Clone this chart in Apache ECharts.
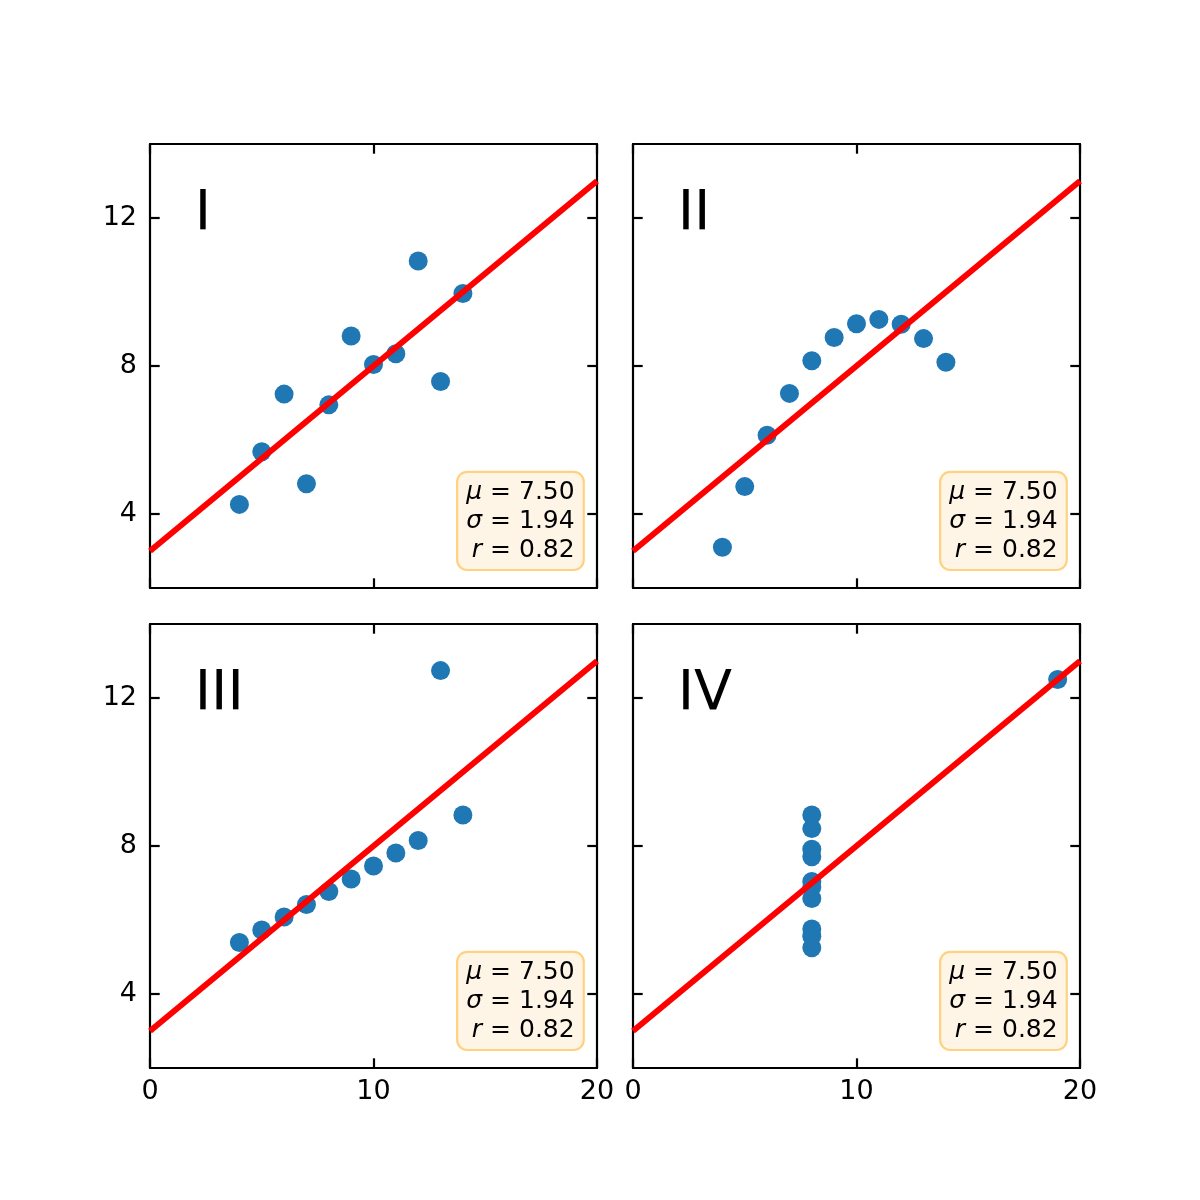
<!DOCTYPE html>
<html>
<head>
<meta charset="utf-8">
<script src="https://cdn.jsdelivr.net/npm/echarts@6/dist/echarts.min.js"></script>
<style>html,body{margin:0;padding:0;background:#fff}#c{width:1200px;height:1200px}</style>
</head>
<body>
<div id="c"></div>
<script>
// Data (Anscombe's quartet)
const panelNames = ['I', 'II', 'III', 'IV'];
const x123 = [10, 8, 13, 9, 11, 14, 6, 4, 12, 7, 5];
const x4 = [8, 8, 8, 8, 8, 8, 8, 19, 8, 8, 8];
const y1 = [8.04, 6.95, 7.58, 8.81, 8.33, 9.96, 7.24, 4.26, 10.84, 4.82, 5.68];
const y2 = [9.14, 8.14, 8.74, 8.77, 9.26, 8.10, 6.13, 3.10, 9.13, 7.26, 4.74];
const y3 = [7.46, 6.77, 12.74, 7.11, 7.81, 8.84, 6.08, 5.39, 8.15, 6.42, 5.73];
const y4 = [6.58, 5.76, 7.71, 8.84, 8.47, 7.04, 5.25, 12.50, 5.56, 7.91, 6.89];
const fitX = [0, 20];
const fitY = [3, 13];
const statsText = ['{i|μ} = 7.50', '{i|σ} = 1.94', '{i|r} = 0.82'];
const xTicks = [0, 10, 20];
const yTicks = [4, 8, 12];

const xs = [x123, x123, x123, x4];
const ys = [y1, y2, y3, y4];

// Layout
const FONT = 'DejaVu Sans';
const W = 447, H = 444;
const lefts = [150, 633];
const tops = [144, 624];
const grids = [];
for (let r = 0; r < 2; r++) for (let c = 0; c < 2; c++) {
  grids.push({ left: lefts[c], top: tops[r], width: W, height: H });
}

const axisLine = { show: true, onZero: false, lineStyle: { color: '#000', width: 2.2 } };
const tick = (vals) => ({ show: true, inside: true, length: 9.7, lineStyle: { color: '#000', width: 2.2 }, customValues: vals });

const xAxis = [], yAxis = [], series = [], graphic = [];
grids.forEach((g, i) => {
  const bottomRow = i >= 2, leftCol = i % 2 === 0;
  xAxis.push({
    gridIndex: i, type: 'value', position: 'bottom', min: 0, max: 20, interval: 10,
    axisLine, axisTick: tick(xTicks), splitLine: { show: false },
    axisLabel: { show: bottomRow, customValues: xTicks, color: '#000', fontFamily: FONT, fontSize: 27, margin: 10 }
  });
  xAxis.push({
    gridIndex: i, type: 'value', position: 'top', min: 0, max: 20, interval: 10,
    axisLine, axisTick: tick(xTicks), splitLine: { show: false }, axisLabel: { show: false }
  });
  yAxis.push({
    gridIndex: i, type: 'value', position: 'left', min: 2, max: 14,
    axisLine, axisTick: tick(yTicks), splitLine: { show: false },
    axisLabel: { show: leftCol, customValues: yTicks, color: '#000', fontFamily: FONT, fontSize: 27, margin: 13 }
  });
  yAxis.push({
    gridIndex: i, type: 'value', position: 'right', min: 2, max: 14,
    axisLine, axisTick: tick(yTicks), splitLine: { show: false }, axisLabel: { show: false }
  });
  series.push({
    type: 'scatter', xAxisIndex: 2 * i, yAxisIndex: 2 * i,
    data: xs[i].map((v, k) => [v, ys[i][k]]),
    symbol: 'circle', symbolSize: 19, itemStyle: { color: '#1f77b4', opacity: 1 },
    z: 2, silent: true
  });
  series.push({
    type: 'line', xAxisIndex: 2 * i, yAxisIndex: 2 * i,
    data: fitX.map((v, k) => [v, fitY[k]]),
    showSymbol: false, lineStyle: { color: '#ff0000', width: 6 }, clip: true,
    z: 3, silent: true, animation: false
  });
  graphic.push({
    type: 'text', x: g.left + 0.1 * W, y: g.top + 0.1 * H - 2,
    style: { text: panelNames[i], fontFamily: FONT, fontSize: 55.6, fill: '#000', align: 'left', verticalAlign: 'top' },
    z: 10
  });
  graphic.push({
    type: 'text', x: g.left + 0.95 * W + 8, y: g.top + H - 0.07 * H + 12,
    style: {
      text: statsText.join('\n'), fontFamily: FONT, fontSize: 25, lineHeight: 29, fill: '#000',
      align: 'right', verticalAlign: 'bottom',
      backgroundColor: '#fff5e6', borderColor: '#ffd280', borderWidth: 2.2, borderRadius: 9,
      padding: [5, 8, 4, 8],
      rich: { i: { fontFamily: FONT, fontStyle: 'italic', fontSize: 25, lineHeight: 29 } }
    },
    z: 10
  });
});

const chart = echarts.init(document.getElementById('c'), null, { renderer: 'canvas' });
chart.setOption({
  backgroundColor: '#fff',
  animation: false,
  grid: grids,
  xAxis, yAxis, series, graphic
});
</script>
</body>
</html>
